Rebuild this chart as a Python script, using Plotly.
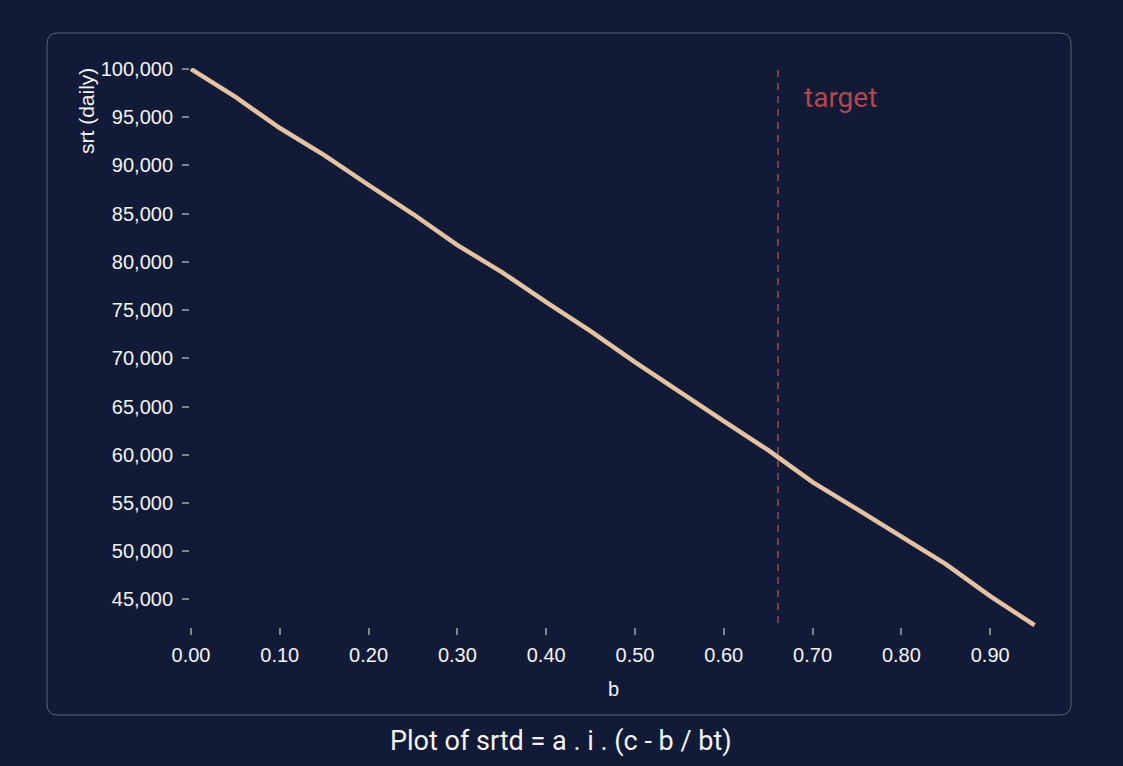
import plotly.graph_objects as go

# values
b_values = [0.00, 0.05, 0.10, 0.15, 0.20, 0.25, 0.30, 0.35, 0.40, 0.45,
            0.50, 0.55, 0.60, 0.65, 0.70, 0.75, 0.80, 0.85, 0.90, 0.95]
srt_daily = [100000, 97100, 93880, 91080, 87970, 84960, 81740, 78940, 75830, 72820,
             69600, 66490, 63480, 60470, 57160, 54360, 51560, 48650, 45330, 42320]
target_b = 0.661
x_ticks = [0.0, 0.1, 0.2, 0.3, 0.4, 0.5, 0.6, 0.7, 0.8, 0.9]
y_ticks = list(range(45000, 100001, 5000))

W, H = 1123, 766
BG = "#111a36"
ML, MR, MT, MB = 190, 87, 68, 139
PW, PH = W - ML - MR, H - MT - MB


def px(x, y):
    # pixel -> paper coords
    return (x - ML) / PW, (H - MB - y) / PH


def rounded_rect(x0, y0, x1, y1, r):
    def p(x, y):
        a, b = px(x, y)
        return f"{a:.5f},{b:.5f}"
    pts = [
        "M" + p(x0 + r, y0),
        "L" + p(x1 - r, y0),
        "Q" + p(x1, y0) + " " + p(x1, y0 + r),
        "L" + p(x1, y1 - r),
        "Q" + p(x1, y1) + " " + p(x1 - r, y1),
        "L" + p(x0 + r, y1),
        "Q" + p(x0, y1) + " " + p(x0, y1 - r),
        "L" + p(x0, y0 + r),
        "Q" + p(x0, y0) + " " + p(x0 + r, y0),
    ]
    return " ".join(pts) + " Z"


fig = go.Figure()
fig.add_trace(go.Scatter(
    x=b_values, y=srt_daily, mode="lines",
    line=dict(color="#e6c3a0", width=4.5),
    hoverinfo="x+y", showlegend=False,
))

fig.add_shape(type="path", xref="paper", yref="paper",
              path=rounded_rect(47, 33, 1071, 715, 11),
              line=dict(color="#5d6478", width=1), layer="below")
fig.add_shape(type="line", xref="x", yref="paper",
              x0=target_b, x1=target_b, y0=px(0, 623)[1], y1=px(0, 69)[1],
              line=dict(color="#a44a4e", width=1.5, dash="7px,6px"))

fig.add_annotation(x=target_b, y=px(0, 97)[1], xref="x", yref="paper",
                   text="target", showarrow=False, xanchor="left", yanchor="middle",
                   xshift=24,
                   font=dict(family="Roboto", size=28, color="#b4474b"))
fig.add_annotation(x=px(87, 0)[0], y=px(0, 111)[1], xref="paper", yref="paper",
                   text="srt (daily)", showarrow=False, textangle=-90,
                   xanchor="center", yanchor="middle",
                   font=dict(family="Liberation Sans, Arial", size=21, color="#f4f4f4"))
fig.add_annotation(x=0.5, y=px(0, 689)[1], xref="paper", yref="paper",
                   text="b", showarrow=False, xanchor="center", yanchor="middle",
                   font=dict(family="Liberation Sans, Arial", size=20, color="#f4f4f4"))
fig.add_annotation(x=px(561, 0)[0], y=px(0, 741)[1], xref="paper", yref="paper",
                   text="Plot of srtd = a . i . (c - b / bt)", showarrow=False,
                   xanchor="center", yanchor="middle",
                   font=dict(family="Roboto", size=27, color="#f4f4f4"))

tick_font = dict(family="Liberation Sans, Arial", size=20, color="#f4f4f4")
fig.update_xaxes(range=[-0.0011, 0.9516], tickvals=x_ticks, tickformat=".2f",
                 ticks="outside", ticklen=7, tickwidth=2, tickcolor="#80848f",
                 showgrid=False, zeroline=False, showline=False,
                 tickfont=tick_font, ticklabelstandoff=3)
fig.update_yaxes(range=[42135, 100104], tickvals=y_ticks, tickformat=",",
                 ticks="outside", ticklen=7, tickwidth=2, tickcolor="#80848f",
                 showgrid=False, zeroline=False, showline=False,
                 tickfont=tick_font, ticklabelstandoff=5)

fig.update_layout(
    width=W, height=H,
    margin=dict(l=ML, r=MR, t=MT, b=MB),
    paper_bgcolor=BG, plot_bgcolor=BG,
    font=dict(family="Liberation Sans, Arial", color="#f4f4f4"),
)

fig.write_html("out.html", config={"displayModeBar": False},
               post_script="document.body.style.margin='0';"
                           "document.body.style.background='" + BG + "';")
